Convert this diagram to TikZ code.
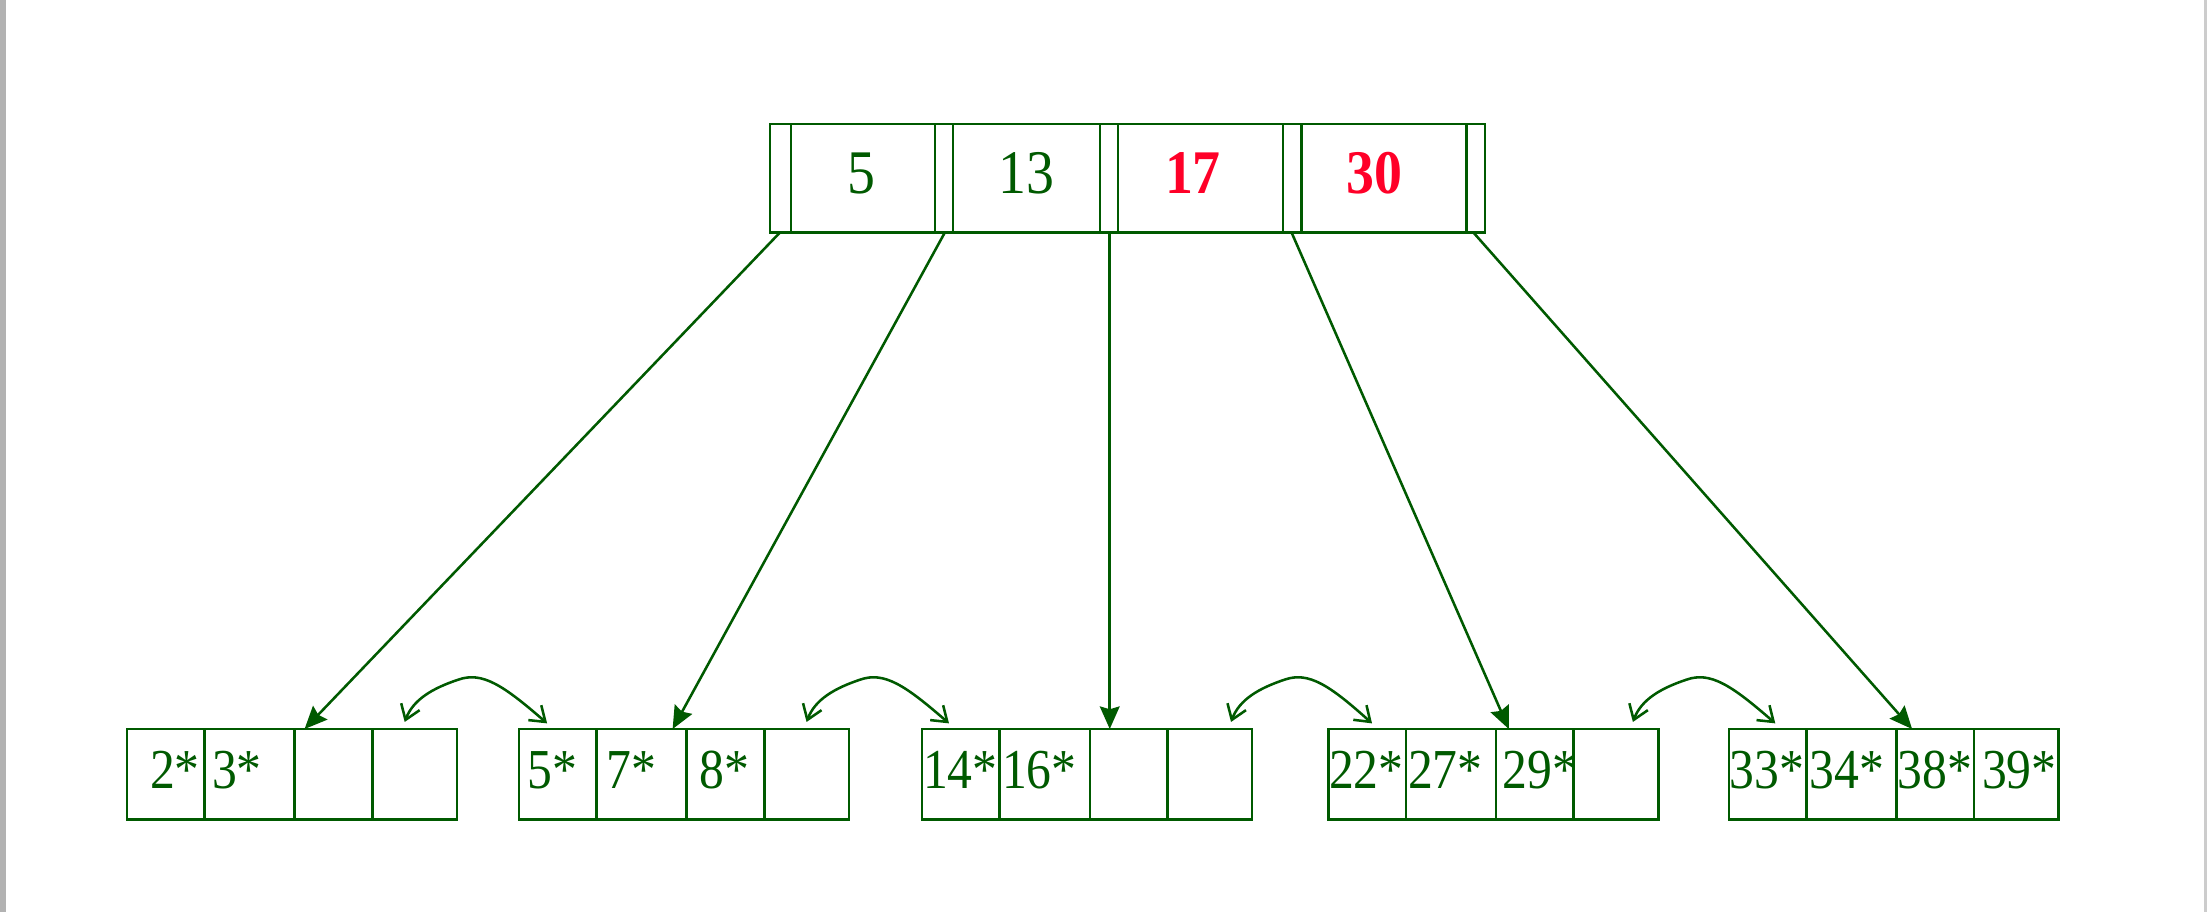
\documentclass[tikz,border=0pt]{standalone}
\usepackage{fontspec}
\setmainfont{Liberation Serif}
\usetikzlibrary{arrows.meta}
\definecolor{tg}{RGB}{0,90,0}
\definecolor{tr}{RGB}{255,0,40}
\begin{document}
\begin{tikzpicture}[x=0.5pt,y=-0.5pt,
  box/.style={draw=tg,line width=0.9pt},
  key/.style={font=\fontsize{22}{22}\selectfont,text=tg,inner sep=0pt,xscale=0.9},
  rkey/.style={font=\bfseries\fontsize{22}{22}\selectfont,text=tr,inner sep=0pt,xscale=0.9},
  lkey/.style={font=\fontsize{20}{20}\selectfont,text=tg,inner sep=0pt,xscale=0.88},
  ptr/.style={draw=tg,line width=0.9pt,-{Stealth[length=8pt,width=7pt,inset=1pt]}},
  sib/.style={draw=tg,line width=0.9pt,{Straight Barb[length=5pt,width=7pt]}-{Straight Barb[length=5pt,width=7pt]}}]
\useasboundingbox (0,0) rectangle (1568,647);
\fill[white] (0,0) rectangle (1568,647);
\draw[gray!60,line width=2pt] (2,0) -- (2,647);
\draw[gray!40,line width=1pt] (1564,0) -- (1564,647);
% top node
\draw[box] (546,88) rectangle (1053,165);
\foreach \x in {561,663,676,780,793,910,923,1040} \draw[box] (\x,88) -- (\x,165);
\node[key] (k1) at (611,123) {5};
\node[key] (k2) at (728,123) {13};
\node[rkey] (k3) at (846,123) {17};
\node[rkey] (k4) at (975,123) {30};
\coordinate (p0) at (553,165);
\coordinate (p1) at (670,165);
\coordinate (p2) at (787,165);
\coordinate (p3) at (916,165);
\coordinate (p4) at (1045,165);
% leaves
\foreach \l/\x in {1/90,2/368,3/654,4/942,5/1226}{
  \draw[box] (\x,517) rectangle (\x+234,581);
  \foreach \d in {55,119,174} \draw[box] (\x+\d,517) -- (\x+\d,581);
}
\node[lkey] (a1) at (124,546) {2*};
\node[lkey] (a2) at (168,546) {3*};
\node[lkey] (b1) at (392,546) {5*};
\node[lkey] (b2) at (448,546) {7*};
\node[lkey] (b3) at (514,546) {8*};
\node[lkey] (c1) at (681,546) {14*};
\node[lkey] (c2) at (737,546) {16*};
\node[lkey] (d1) at (969,546) {22*};
\node[lkey] (d2) at (1025,546) {27*};
\node[lkey] (d3) at (1092,546) {29*};
\node[lkey] (e1) at (1253,546) {33*};
\node[lkey] (e2) at (1310,546) {34*};
\node[lkey] (e3) at (1372,546) {38*};
\node[lkey] (e4) at (1432,546) {39*};
\coordinate (t1) at (216,517);
\coordinate (t2) at (477,517);
\coordinate (t3) at (787,517);
\coordinate (t4) at (1070,517);
\coordinate (t5) at (1356,517);
\draw[ptr] (p0) -- (t1);
\draw[ptr] (p1) -- (t2);
\draw[ptr] (p2) -- (t3);
\draw[ptr] (p3) -- (t4);
\draw[ptr] (p4) -- (t5);
% sibling links
\foreach \s/\e [count=\i] in {287/388,572/673,873/973,1158/1259}{
  \coordinate (sa\i) at (\s,512);
  \coordinate (sb\i) at (\e,513);
  \draw[sib] (sa\i) .. controls (\s+6,496) and (\s+20,488) .. (\s+38,482)
     .. controls (\s+55,476) and (\s+70,486) .. (sb\i);
}
\end{tikzpicture}
\end{document}
